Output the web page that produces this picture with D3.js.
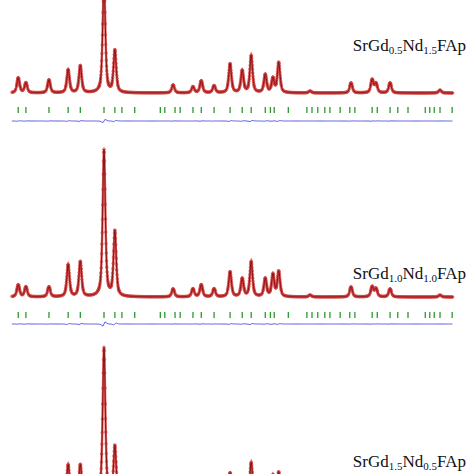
<!DOCTYPE html><html><head><meta charset="utf-8"><script src="https://cdn.jsdelivr.net/npm/d3@7"></script>
<style>body{margin:0;background:#fff}</style></head><body><svg id="c" width="474" height="474"></svg>
<script>
const peakPos=[11.6,12.8,16.4,19.4,21.3,25.0,26.7,35.8,38.9,40.2,42.2,44.7,46.6,48.0,50.2,51.4,52.3,57.2,63.6,66.9,67.5,69.7,77.5];
const heights1=[15,10,13,23,27,110,42,8,6,12,7,29,22,37,18,14,30,2,10,13,9,10,3];
const heights2=[12,10,10,32,35,147,65,8,8,12,8,25,18,35,18,22,25,2,10,10,8,8,2];
const heights3=[12,10,10,33,33,150,51,8,8,12,8,25,18,35,18,22,25,2,10,10,8,8,2];
const tickPos=[11.6,12.8,16.4,19.4,21.3,25.0,26.7,27.8,29.8,33.8,34.5,36.1,36.9,38.9,40.2,42.2,44.7,46.6,48.0,50.2,51.0,51.6,53.8,56.7,57.5,58.4,59.5,60.3,61.9,63.4,64.2,66.9,67.7,69.7,70.9,72.5,75.2,75.9,76.6,77.5,79.4];
const labels=[["SrGd","0.5","Nd","1.5","FAp"],["SrGd","1.0","Nd","1.0","FAp"],["SrGd","1.5","Nd","0.5","FAp"]];
const panels=[{h:heights1,base:93,tick:110,diff:121,ly:51},{h:heights2,base:297,tick:315,diff:324,ly:279},{h:heights3,base:498,tick:520,diff:530,ly:467}];
const svg=d3.select("#c");
const x=d3.scaleLinear().domain([10,80]).range([8,456]);
const w=0.25;
function prof(t,h){let s=0;peakPos.forEach((p,i)=>{const d=(t-p)/w;s+=h[i]*(0.6/(1+d*d)+0.4*Math.exp(-d*d*0.7));});return s;}
const grid=d3.range(10.6,79.6,0.04);
panels.forEach((P,k)=>{
 const y=d3.scaleLinear().domain([0,100]).range([P.base,P.base-100]);
 const g=svg.append("g");
 g.append("path").datum(grid).attr("fill","none").attr("stroke","#e06060").attr("stroke-width",2.4)
  .attr("d",d3.line().x(t=>x(t)).y(t=>y(prof(t,P.h))));
 const pts=grid.filter((t,i)=>i%3==0||prof(t,P.h)>6);
 g.selectAll("circle").data(pts).join("circle").attr("cx",t=>x(t)).attr("cy",t=>y(prof(t,P.h))).attr("r",1.3)
  .attr("fill","none").attr("stroke","#d04040").attr("stroke-width",0.7);
 g.append("path").datum(grid).attr("fill","none").attr("stroke","#8a1010").attr("stroke-width",1)
  .attr("d",d3.line().x(t=>x(t)).y(t=>y(prof(t,P.h))));
 g.selectAll("line.t").data(tickPos).join("line").attr("x1",t=>x(t)).attr("x2",t=>x(t))
  .attr("y1",P.tick-3).attr("y2",P.tick+3).attr("stroke","#2a9a2a").attr("stroke-width",1.3);
 const dg=d3.range(10.6,79.6,0.15);
 g.append("path").datum(dg).attr("fill","none").attr("stroke","#4a4ad8").attr("stroke-width",0.9)
  .attr("d",d3.line().x(t=>x(t)).y(t=>P.diff+ (prof(t+0.1,P.h)-prof(t-0.1,P.h))*0.03));
 const tx=g.append("text").attr("x",466).attr("y",P.ly).attr("text-anchor","end")
  .attr("font-family","Liberation Serif").attr("font-size",17).attr("fill","#111");
 const L=labels[k];
 tx.append("tspan").text(L[0]);
 tx.append("tspan").attr("font-size",11).attr("dy",3).text(L[1]);
 tx.append("tspan").attr("dy",-3).text(L[2]);
 tx.append("tspan").attr("font-size",11).attr("dy",3).text(L[3]);
 tx.append("tspan").attr("dy",-3).text(L[4]);
});
</script></body></html>
